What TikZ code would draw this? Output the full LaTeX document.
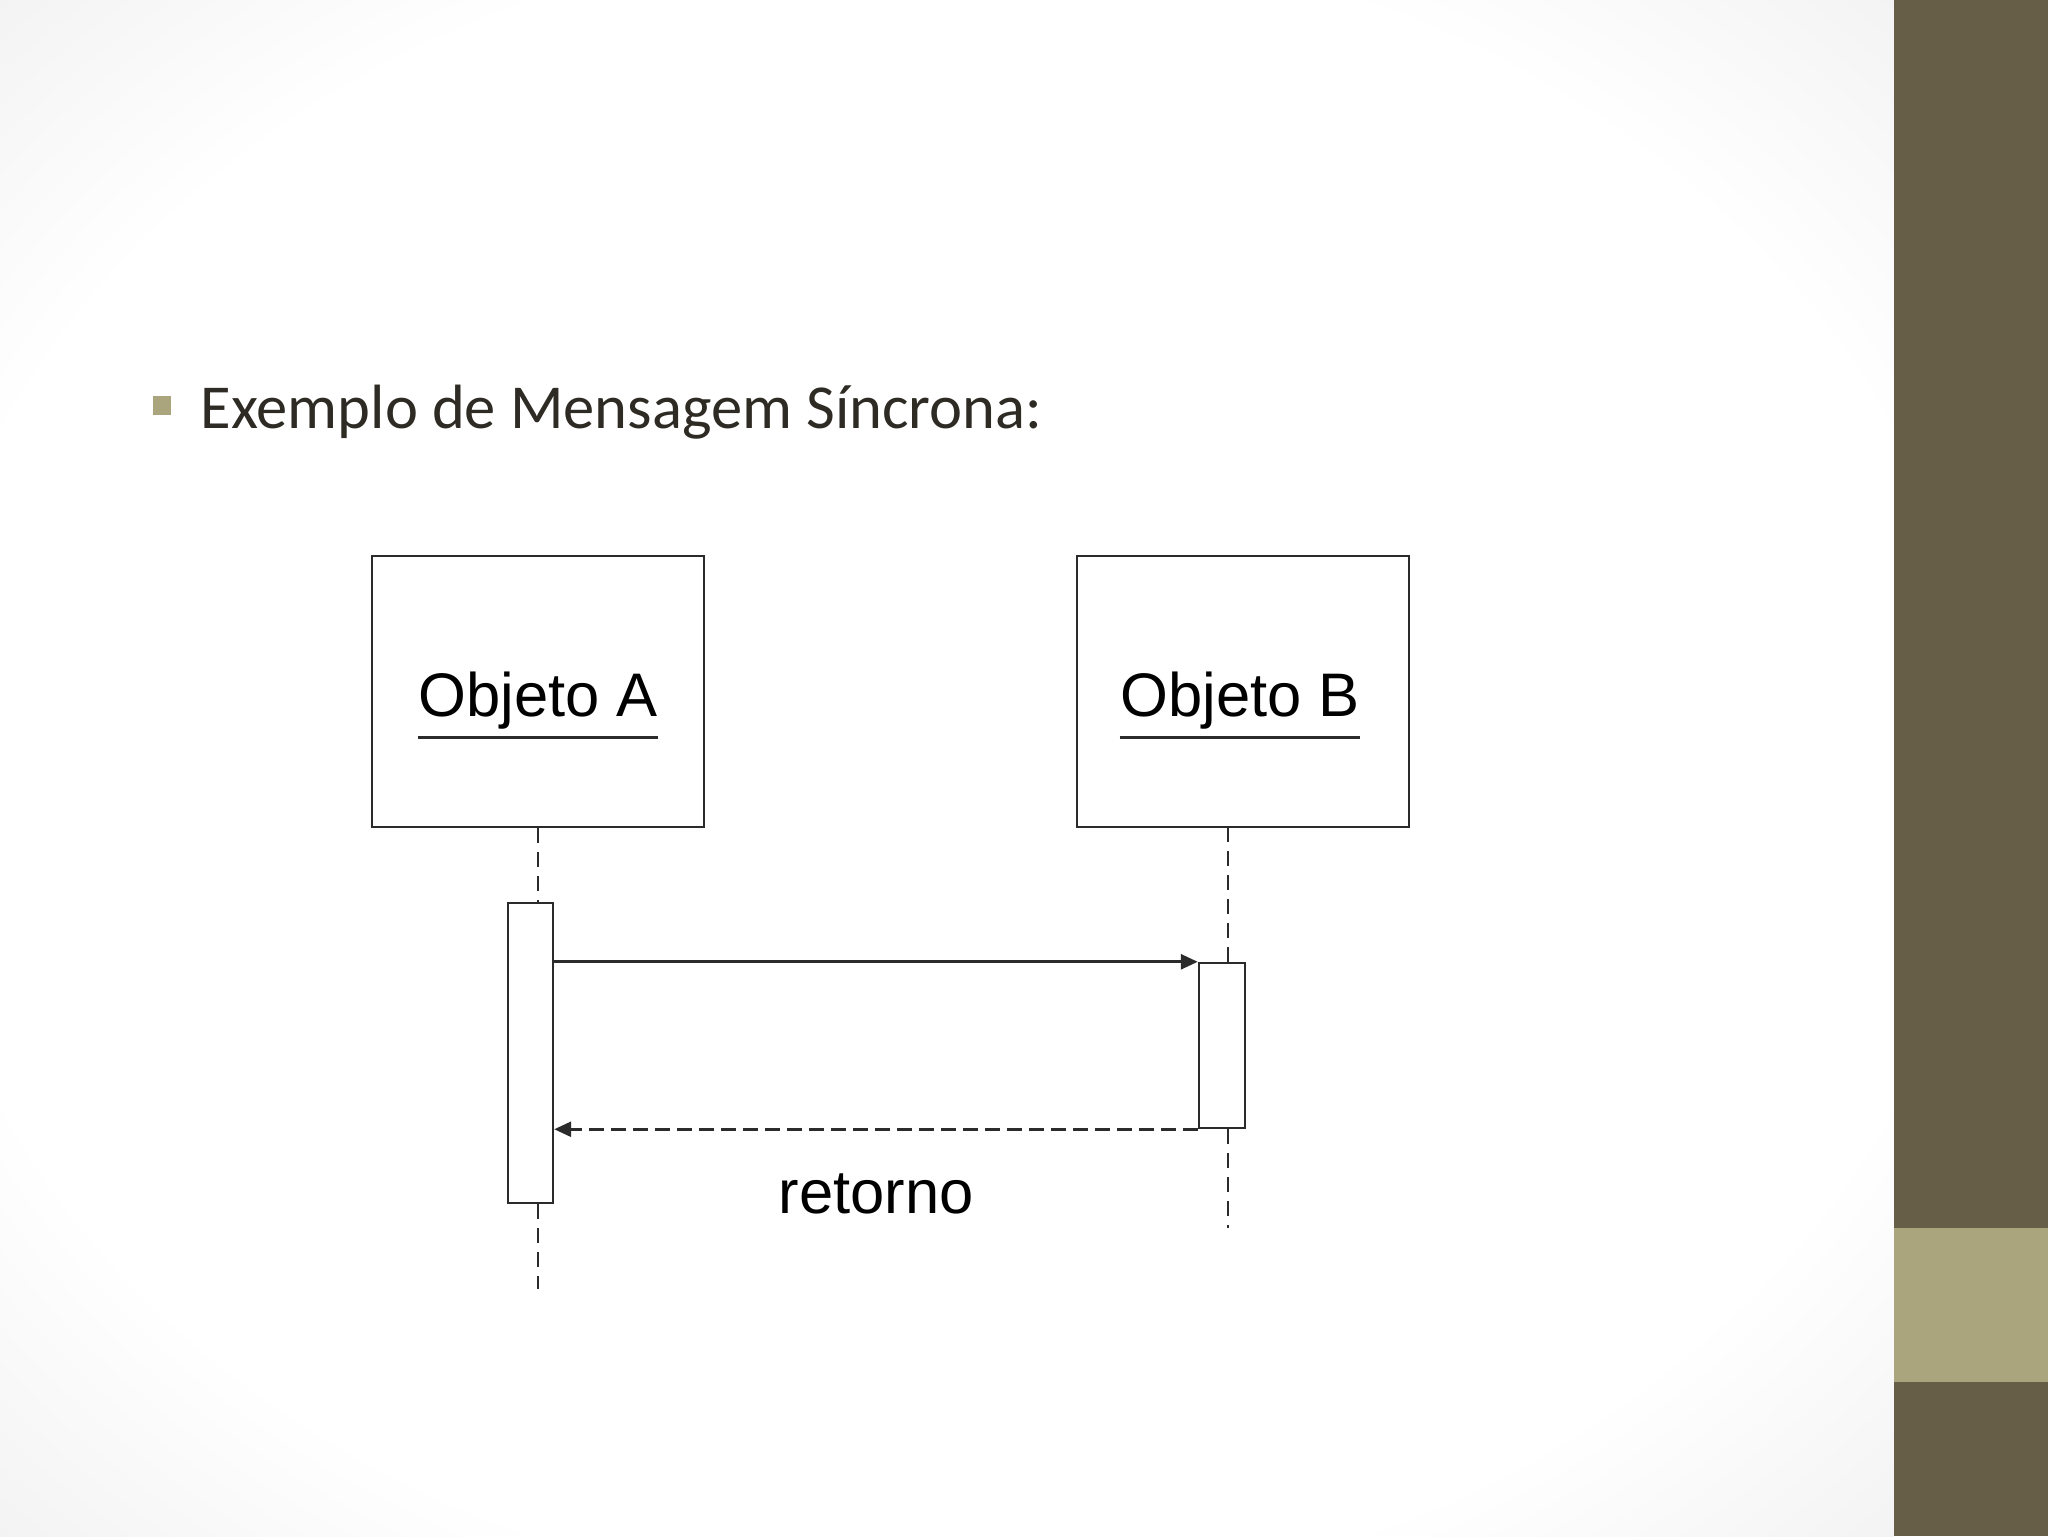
\documentclass[tikz,border=0pt]{standalone}
\usepackage{fontspec}
\setmainfont{Carlito}
\newfontfamily\umlfont{Liberation Sans}
\usetikzlibrary{arrows.meta}
\usetikzlibrary{positioning}

\definecolor{sidedark}{HTML}{675E48}
\definecolor{sidelight}{HTML}{ABA57E}
\definecolor{titletext}{HTML}{2E2B24}
\definecolor{umlline}{HTML}{2B2B2B}
\pgfdeclareradialshading{slidebg}{\pgfpoint{0bp}{0bp}}{%
    color(0bp)=(white); color(27bp)=(white); color(36bp)=(black!5);
    color(50bp)=(black!12)}

\begin{document}
\begin{tikzpicture}[x=0.1mm, y=-0.1mm,
    objbox/.style={draw=umlline, line width=0.7pt, fill=white,
        minimum width=33.2mm, minimum height=27.1mm, inner sep=0pt},
    objlabel/.style={inner sep=0pt, anchor=base,
        font=\umlfont\fontsize{17.5}{20}\selectfont},
    actbox/.style={draw=umlline, line width=0.7pt, fill=white, inner sep=0pt},
    lifeline/.style={draw=umlline, line width=0.7pt, dash pattern=on 1.5mm off 0.9mm},
    msg/.style={draw=umlline, line width=0.8pt,
        -{Triangle[length=1.7mm,width=1.5mm]}},
    ret/.style={msg, dash pattern=on 1.5mm off 0.7mm}]

\useasboundingbox (0,0) rectangle (2048,1536);
\shade[shading=slidebg] (0,0) rectangle (1894,1536);
\fill[sidedark] (1894,0) rectangle (2048,1536);
\fill[sidelight] (1894,1228) rectangle (2048,1382);

\fill[sidelight] (153,396) rectangle (171,415);
\node[inner sep=0pt, anchor=base west, text=titletext,
    font=\fontsize{17.8}{22}\selectfont] at (200,428) (title)
    {Exemplo de Mensagem Síncrona:};

\node[objbox] at (538,691.5) (objA) {};
\node[objbox] at (1243,691.5) (objB) {};
\node[objlabel] at (538,716) (lblA) {Objeto A};
\node[objlabel] at (1240,716) (lblB) {Objeto B};
\draw[umlline, line width=0.8pt] ([yshift=-6.2pt]lblA.base west) -- ([yshift=-6.2pt]lblA.base east);
\draw[umlline, line width=0.8pt] ([yshift=-6.2pt]lblB.base west) -- ([yshift=-6.2pt]lblB.base east);

\coordinate (topB) at (1228,827);
\coordinate (endA) at (538,1289);
\coordinate (endB) at (1228,1228);

\node[actbox, minimum width=4.5mm, minimum height=30mm] at (530.5,1053) (actA) {};
\node[actbox, minimum width=4.6mm, minimum height=16.5mm] at (1222,1045.5) (actB) {};

\draw[lifeline] (objA.south) -- (objA.south |- actA.north);
\draw[lifeline] (objA.south |- actA.south) -- (endA);
\draw[lifeline] (topB) -- (topB |- actB.north);
\draw[lifeline] (topB |- actB.south) -- (endB);

\draw[msg] (actA.east |- actB.north) -- (actB.north west);
\draw[ret] (actB.south west) -- (actA.east |- actB.south)
    node[midway, anchor=base, yshift=-8.4mm, inner sep=0pt,
        font=\umlfont\fontsize{17.5}{20}\selectfont] (retlbl) {retorno};
\end{tikzpicture}
\end{document}
